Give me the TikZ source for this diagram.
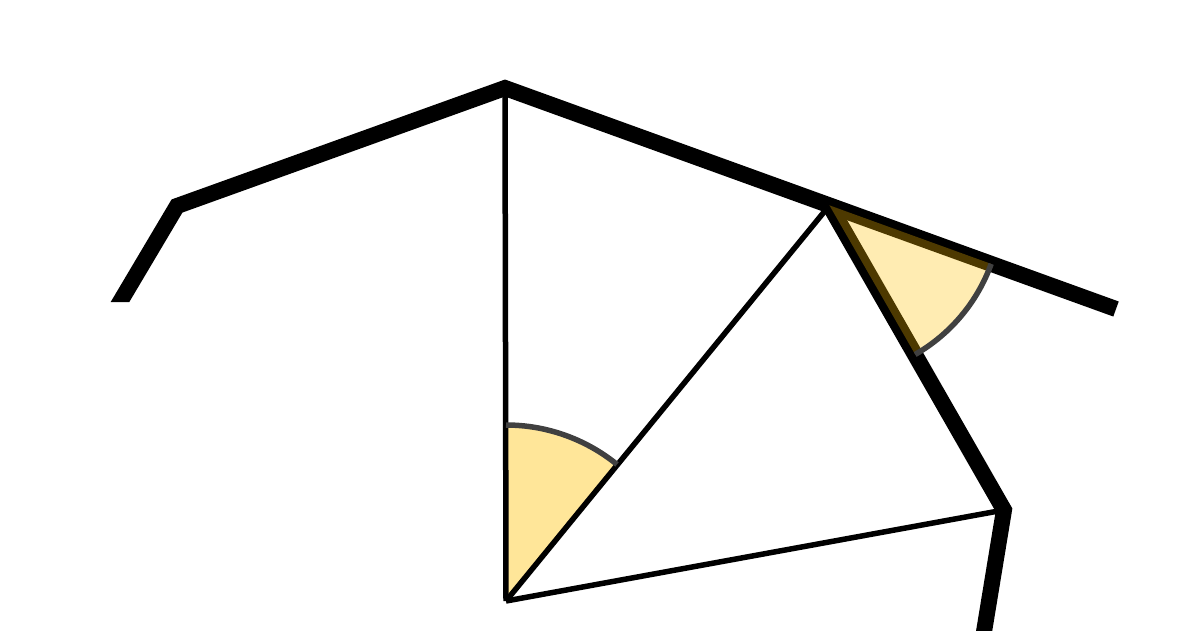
\documentclass[tikz,border=0pt]{standalone}
\usetikzlibrary{calc}
\definecolor{wedgeA}{HTML}{FFE699}
\definecolor{wedgeB}{HTML}{FFC000}
\definecolor{arcgray}{HTML}{404040}
\tikzset{
  thickline/.style={line width=16pt, line join=miter, line cap=butt, black},
  thinline/.style={line width=5.5pt, line join=miter, black},
  arcline/.style={line width=5.5pt, arcgray, line cap=butt},
}
\begin{document}
\begin{tikzpicture}[x=1pt,y=-1pt]
\clip (0,0) rectangle (1200,630);
\coordinate (C1) at (177,206);
\coordinate (A) at (505,88);
\coordinate (E) at (1116,309);
\coordinate (B) at ($(A)!0.531!(E)$);
\coordinate (D) at (1004,510);
\coordinate (F) at (981,650);
\coordinate (O) at (506,601);
\coordinate (L) at ($(C1)!1.5!(120,302)$);
% lower angle wedge
\fill[wedgeA] (O) -- ++(0,-176) arc[start angle=-90, end angle=-50.9, radius=176] -- cycle;
% thin lines
\draw[thinline] (A) -- (O);
\draw[thinline] (O) -- (B);
\draw[thinline] (O) -- (D);
\draw[arcline] ($(O)+(0,-176)$) arc[start angle=-90, end angle=-50.9, radius=176];
% thick polygon sides
\begin{scope}
\clip (0,0) -- (1200,0) -- (1200,630) -- (300,630) -- (300,302) -- (0,302) -- cycle;
\draw[thickline] (L) -- (C1) -- (A) -- (E);
\end{scope}
\draw[thickline] (B) -- (D) -- (F);
% upper angle wedge
\fill[wedgeB, fill opacity=0.3] (B) -- ++(19.9:172) arc[start angle=19.9, end angle=60.1, radius=172] -- cycle;
\draw[arcline] (B) ++(19.9:172) arc[start angle=19.9, end angle=60.1, radius=172];
\end{tikzpicture}
\end{document}
